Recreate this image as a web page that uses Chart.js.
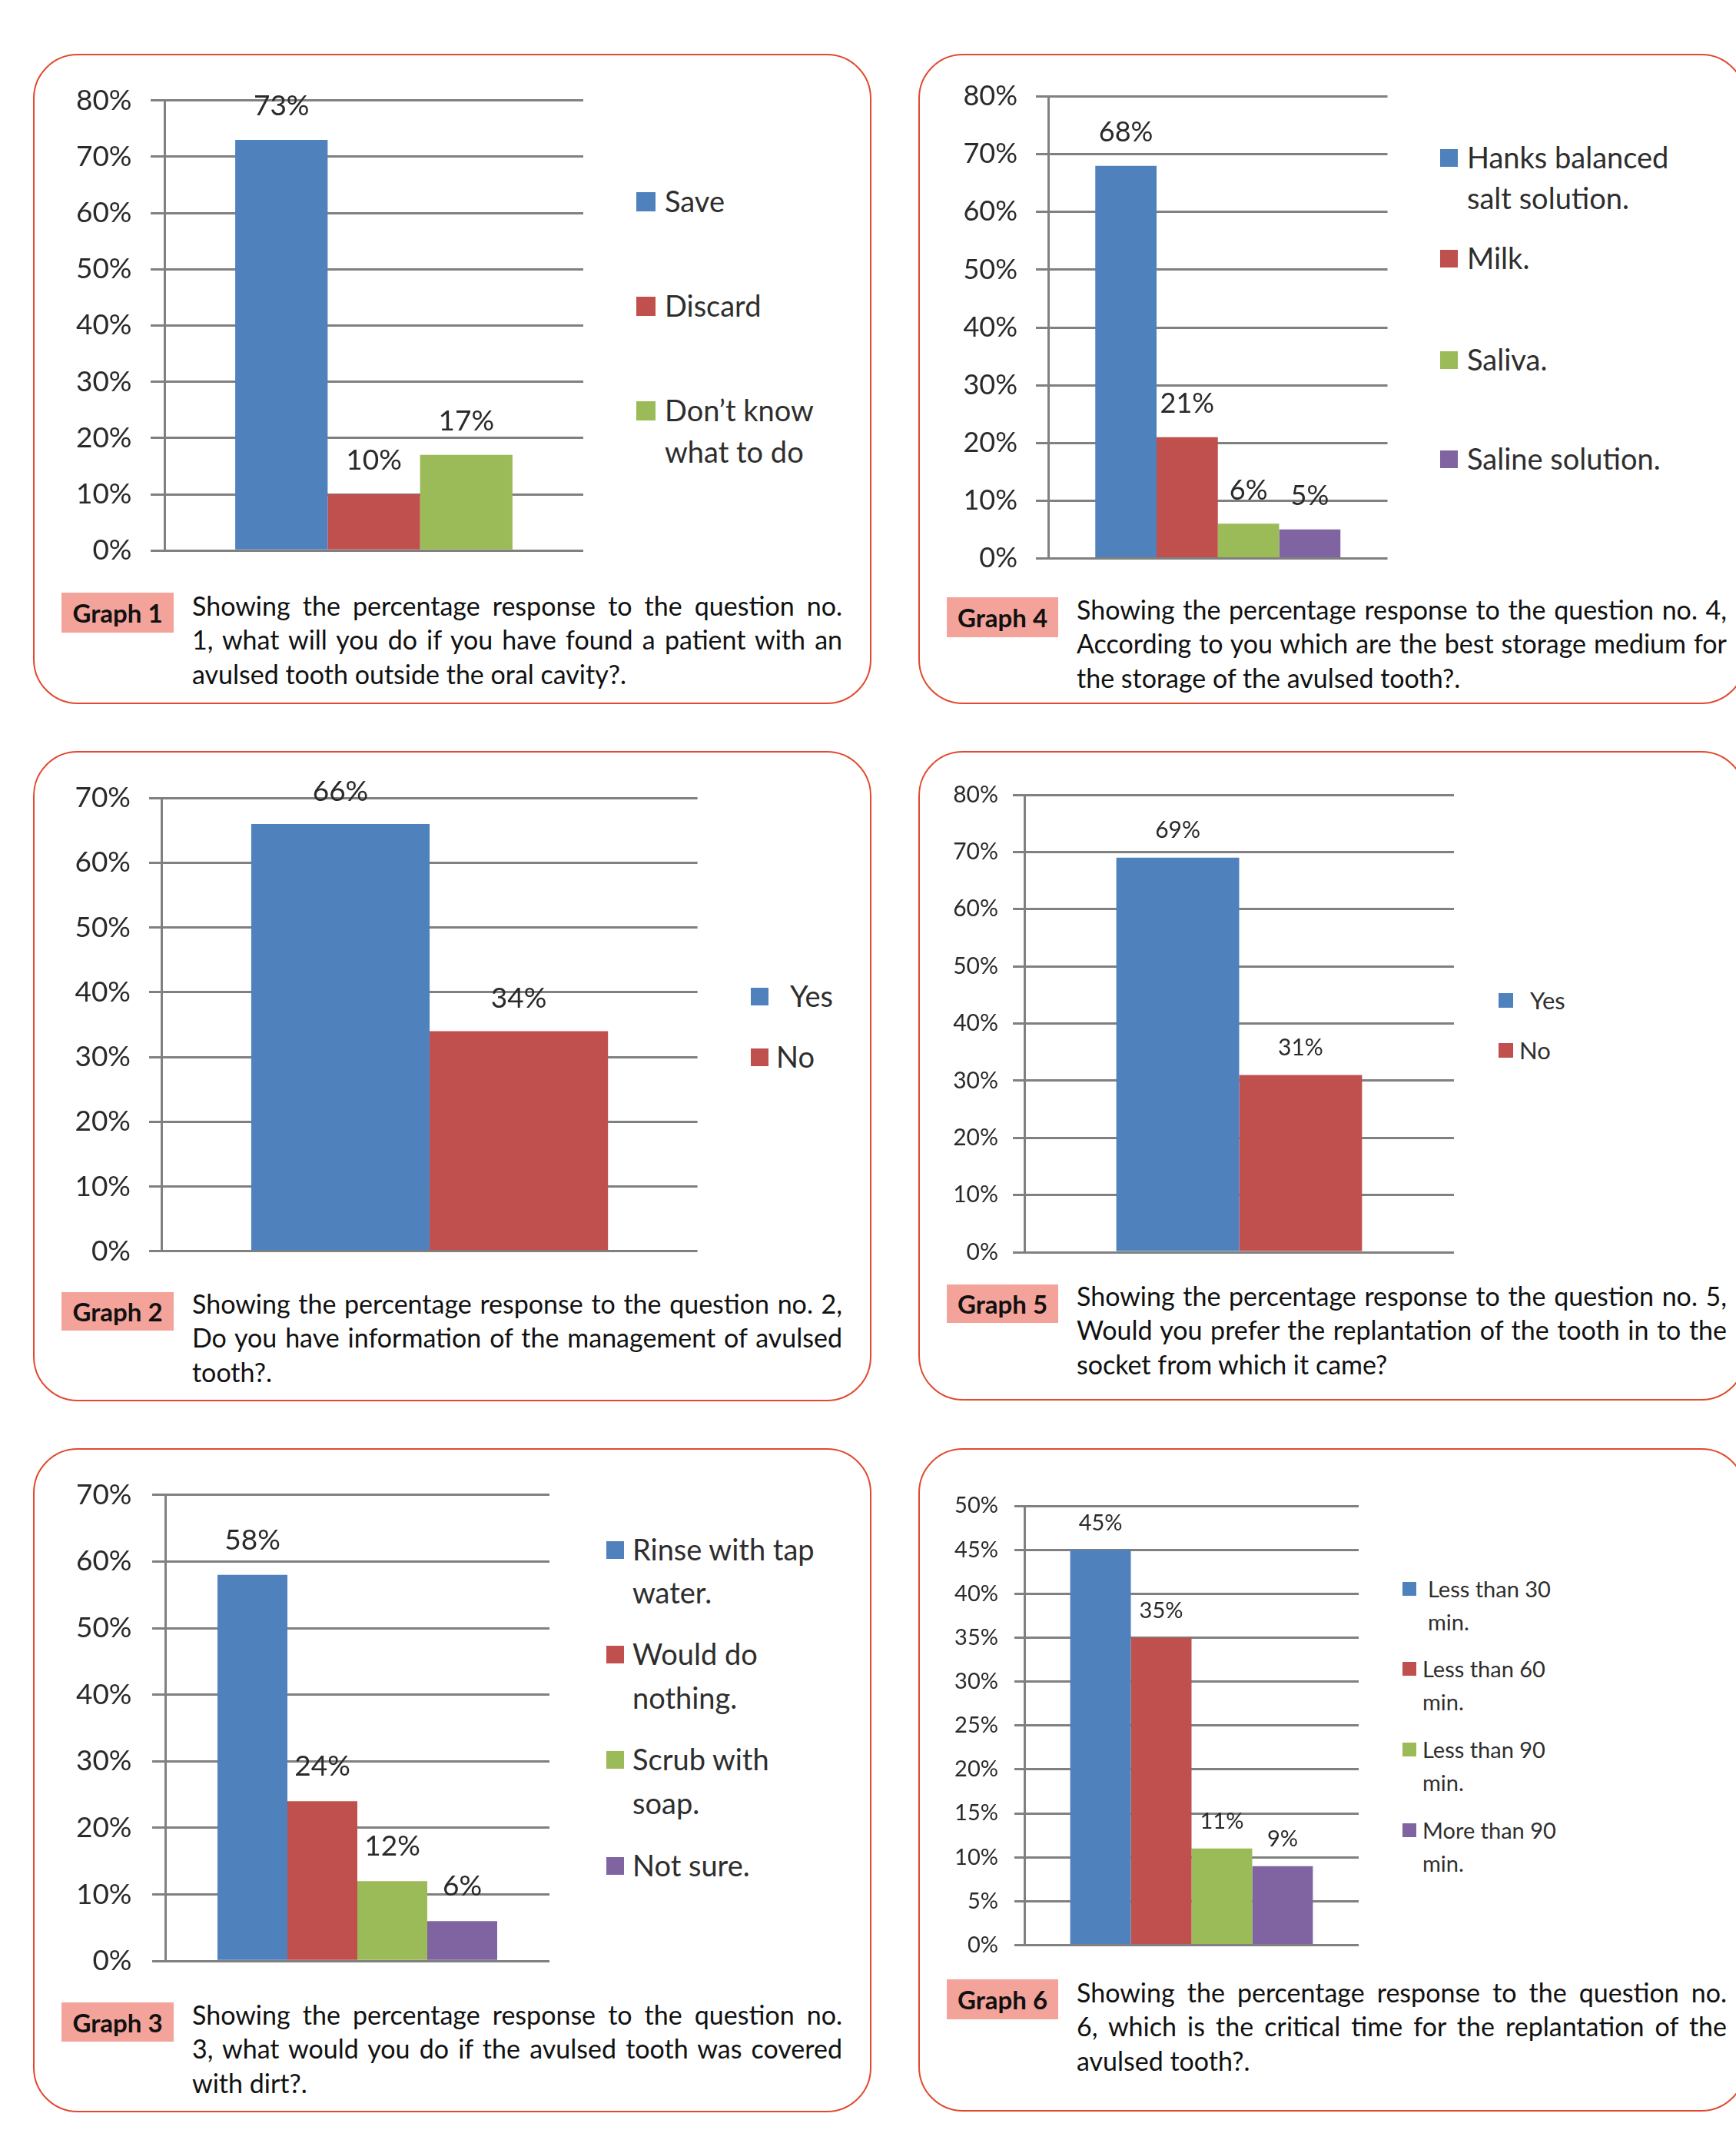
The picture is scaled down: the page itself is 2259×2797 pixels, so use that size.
<!DOCTYPE html>
<html><head><meta charset="utf-8">
<script src="https://cdn.jsdelivr.net/npm/chart.js@4.4.1/dist/chart.umd.min.js"></script>
<style>
html,body{margin:0;padding:0;background:#fff;}
body{width:2259px;height:2797px;position:relative;overflow:hidden;font-family:Lato,'Open Sans',sans-serif;}
.panel{position:absolute;border:2.5px solid #E2492F;border-radius:58px;box-sizing:border-box;}
.gbox{position:absolute;background:#F4A39A;color:#111;font-weight:bold;font-size:33px;display:flex;align-items:center;justify-content:center;}
.cap{position:absolute;font-size:34px;color:#111;line-height:44.5px;}
.cap div{text-align:justify;text-align-last:justify;}
.cap div.last{text-align-last:left;}
canvas{position:absolute;}
.lt{position:absolute;color:#2e2e2e;white-space:nowrap;}
.mk{position:absolute;}
</style></head><body>
<script>
// ---------- DATA ----------
const colors = ['#4F81BD', '#C0504D', '#9BBB59', '#8064A2'];

const g1Series = [['Save'], ['Discard'], ['Don\u2019t know', 'what to do']];
const g1Values = [73, 10, 17];
const g1Ticks = { max: 80, step: 10 };

const g2Series = [['Yes'], ['No']];
const g2Values = [66, 34];
const g2Ticks = { max: 70, step: 10 };

const g3Series = [['Rinse with tap', 'water.'], ['Would do', 'nothing.'], ['Scrub with', 'soap.'], ['Not sure.']];
const g3Values = [58, 24, 12, 6];
const g3Ticks = { max: 70, step: 10 };

const g4Series = [['Hanks balanced', 'salt solution.'], ['Milk.'], ['Saliva.'], ['Saline solution.']];
const g4Values = [68, 21, 6, 5];
const g4Ticks = { max: 80, step: 10 };

const g5Series = [['Yes'], ['No']];
const g5Values = [69, 31];
const g5Ticks = { max: 80, step: 10 };

const g6Series = [['Less than 30', 'min.'], ['Less than 60', 'min.'], ['Less than 90', 'min.'], ['More than 90', 'min.']];
const g6Values = [45, 35, 11, 9];
const g6Ticks = { max: 50, step: 5 };

const g1Caption = ['Showing the percentage response to the question no.', '1, what will you do if you have found a patient with an', 'avulsed tooth outside the oral cavity?.'];
const g2Caption = ['Showing the percentage response to the question no. 2,', 'Do you have information of the management of avulsed', 'tooth?.'];
const g3Caption = ['Showing the percentage response to the question no.', '3, what would you do if the avulsed tooth was covered', 'with dirt?.'];
const g4Caption = ['Showing the percentage response to the question no. 4,', 'According to you which are the best storage medium for', 'the storage of the avulsed tooth?.'];
const g5Caption = ['Showing the percentage response to the question no. 5,', 'Would you prefer the replantation of the tooth in to the', 'socket from which it came?'];
const g6Caption = ['Showing the percentage response to the question no.', '6, which is the critical time for the replantation of the', 'avulsed tooth?.'];

// ---------- LAYOUT ----------
const graphs = [
  { name: 'Graph 1', series: g1Series, values: g1Values, ticks: g1Ticks, caption: g1Caption,
    panel: [43, 70, 1134, 916], gbox: [80, 771, 226, 823], capLeft: 250, capTop: 788,
    axisX: 214, gridLeft: 196, right: 759, top: 131, bottom: 717, labelRight: 171.5, tickFont: 37, valFont: 37, offset: 44, cat: 0.662,
    leg: { mk: 828, size: 25, text: [865, 865, 865], font: 38, lines: [[262], [398], [534, 588]] } },
  { name: 'Graph 2', series: g2Series, values: g2Values, ticks: g2Ticks, caption: g2Caption,
    panel: [43, 977, 1134, 1823], gbox: [80, 1681, 226, 1731], capLeft: 250, capTop: 1696,
    axisX: 210.5, gridLeft: 194, right: 907.6, top: 1038, bottom: 1627.6, labelRight: 170, tickFont: 37, valFont: 37, offset: 42, cat: 0.666,
    leg: { mk: 977, size: 23, text: [1028, 1010], font: 38, lines: [[1296], [1375]] } },
  { name: 'Graph 3', series: g3Series, values: g3Values, ticks: g3Ticks, caption: g3Caption,
    panel: [43, 1884, 1134, 2748], gbox: [80, 2605, 226, 2656], capLeft: 250, capTop: 2621,
    axisX: 215, gridLeft: 198, right: 715, top: 1945, bottom: 2552, labelRight: 171.5, tickFont: 37, valFont: 37, offset: 45, cat: 0.728,
    leg: { mk: 789, size: 23, text: [823, 823, 823, 823], font: 38, lines: [[2016, 2072], [2152, 2209], [2289, 2346], [2427]] } },
  { name: 'Graph 4', series: g4Series, values: g4Values, ticks: g4Ticks, caption: g4Caption,
    panel: [1195, 70, 2272, 916], gbox: [1232, 777, 1377, 829], capLeft: 1401, capTop: 793,
    axisX: 1364, gridLeft: 1348, right: 1805.5, top: 125.5, bottom: 726, labelRight: 1324, tickFont: 36, valFont: 36, offset: 43, cat: 0.7225,
    leg: { mk: 1874, size: 23, text: [1909, 1909, 1909, 1909], font: 38, lines: [[205, 258], [336], [468], [597]] } },
  { name: 'Graph 5', series: g5Series, values: g5Values, ticks: g5Ticks, caption: g5Caption,
    panel: [1195, 977, 2272, 1822], gbox: [1232, 1671, 1377, 1721], capLeft: 1401, capTop: 1686,
    axisX: 1333, gridLeft: 1318, right: 1892, top: 1034, bottom: 1629, labelRight: 1299, tickFont: 30, valFont: 30, offset: 35, cat: 0.572,
    leg: { mk: 1950, size: 19, text: [1991, 1977], font: 31, lines: [[1301], [1366]] } },
  { name: 'Graph 6', series: g6Series, values: g6Values, ticks: g6Ticks, caption: g6Caption,
    panel: [1195, 1884, 2272, 2747], gbox: [1232, 2575, 1377, 2627], capLeft: 1401, capTop: 2592,
    axisX: 1333, gridLeft: 1320, right: 1768, top: 1959, bottom: 2531, labelRight: 1299, tickFont: 29, valFont: 29, offset: 35, cat: 0.726,
    leg: { mk: 1825, size: 18, text: [1858, 1851, 1851, 1851], font: 29, lines: [[2067, 2110], [2171, 2214], [2276, 2319], [2381, 2424]] } }
];

const TEXT = '#2a2a2a';
const GRID = '#808080';
const FONT = 'Lato, "Open Sans", sans-serif';

const valueLabels = {
  id: 'valueLabels',
  afterDatasetsDraw(chart, args, opts) {
    const ctx = chart.ctx;
    ctx.save();
    ctx.font = opts.size + 'px ' + FONT;
    ctx.fillStyle = TEXT;
    ctx.textAlign = 'center';
    ctx.textBaseline = 'middle';
    chart.data.datasets.forEach((ds, i) => {
      const el = chart.getDatasetMeta(i).data[0];
      ctx.fillText(ds.data[0] + '%', el.x, el.y - opts.offset);
    });
    ctx.restore();
  }
};

function el(tag, cls, style, text) {
  const e = document.createElement(tag);
  if (cls) e.className = cls;
  Object.assign(e.style, style || {});
  if (text !== undefined) e.textContent = text;
  document.body.appendChild(e);
  return e;
}

function buildChart(g, cLeft, cTop, cW, cH) {
  const canvas = document.createElement('canvas');
  canvas.width = cW; canvas.height = cH;
  canvas.style.left = cLeft + 'px'; canvas.style.top = cTop + 'px';
  canvas.style.width = cW + 'px'; canvas.style.height = cH + 'px';
  document.body.appendChild(canvas);
  const tickLen = g.axisX - g.gridLeft;
  const axisW = g.axisX - cLeft;
  const chart = new Chart(canvas, {
    type: 'bar',
    data: {
      labels: [''],
      datasets: g.series.map((s, i) => ({
        label: s.join(' '),
        data: [g.values[i]],
        backgroundColor: colors[i],
        borderWidth: 0,
        categoryPercentage: g.cat,
        barPercentage: 1
      }))
    },
    options: {
      responsive: false,
      maintainAspectRatio: false,
      animation: false,
      devicePixelRatio: 1,
      layout: { padding: { left: 0, right: cW - (g.right - cLeft), top: 40, bottom: 30 } },
      plugins: { legend: { display: false }, tooltip: { enabled: false }, valueLabels: { size: g.valFont, offset: g.offset } },
      scales: {
        x: { display: false },
        y: {
          min: 0, max: g.ticks.max,
          afterFit: s => { s.width = axisW; },
          ticks: {
            stepSize: g.ticks.step,
            padding: g.axisX - tickLen - g.labelRight,
            color: TEXT,
            font: { family: FONT, size: g.tickFont },
            callback: v => v + '%'
          },
          grid: { color: GRID, lineWidth: 3, tickLength: tickLen, drawTicks: true },
          border: { color: GRID, width: 3 }
        }
      }
    },
    plugins: [valueLabels]
  });
  return { chart, canvas };
}

graphs.forEach(g => {
  const [pl, pt, pr, pb] = g.panel;
  el('div', 'panel', { left: pl + 'px', top: pt + 'px', width: (pr - pl) + 'px', height: (pb - pt) + 'px' });
  const [bl, bt, br, bb] = g.gbox;
  el('div', 'gbox', { left: bl + 'px', top: bt + 'px', width: (br - bl) + 'px', height: (bb - bt) + 'px' }, g.name);
  const cap = el('div', 'cap', { left: g.capLeft + 'px', top: (g.capTop - 22.25) + 'px', width: '846px' });
  g.caption.forEach((line, i) => {
    const d = document.createElement('div');
    d.textContent = line;
    if (i === g.caption.length - 1) d.className = 'last';
    cap.appendChild(d);
  });

  // legend
  const L = g.leg;
  g.series.forEach((lines, i) => {
    const c0 = L.lines[i][0];
    el('div', 'mk', { left: L.mk + 'px', top: (c0 - L.size / 2) + 'px', width: L.size + 'px', height: L.size + 'px', background: colors[i] });
    lines.forEach((t, j) => {
      const cy = L.lines[i][j];
      const lh = L.font * 1.3;
      el('div', 'lt', { left: L.text[i] + 'px', top: (cy - lh / 2) + 'px', fontSize: L.font + 'px', lineHeight: lh + 'px' }, t);
    });
  });

  // chart: first pass, measure where the library puts the axis, then rebuild with a fitted canvas
  const cLeft = Math.round(g.labelRight - 110);
  const cW = Math.round(g.right - cLeft + 6);
  let cTop = Math.round(g.top - 60);
  let cH = Math.round(g.bottom - g.top + 120);
  let built = buildChart(g, cLeft, cTop, cW, cH);
  const ys = built.chart.scales.y;
  const aTop = ys.getPixelForValue(g.ticks.max);
  const aBot = ys.getPixelForValue(0);
  built.chart.destroy();
  built.canvas.remove();
  const newTop = Math.round(g.top - aTop);
  const newH = Math.round(cH + (g.bottom - g.top) - (aBot - aTop));
  buildChart(g, cLeft, newTop, cW, newH);
});
</script>
</body></html>
